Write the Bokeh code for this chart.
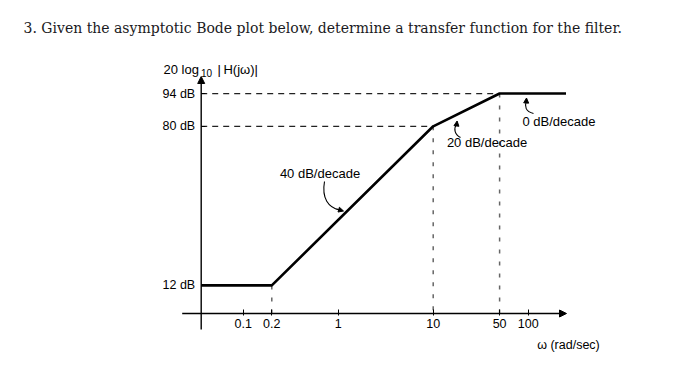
from bokeh.plotting import figure
from bokeh.models import FixedTicker, CustomJSTickFormatter, Arrow, NormalHead
from bokeh.core.properties import value
from bokeh.embed import file_html
from bokeh.resources import INLINE

# ---------------- data ----------------
title_text = "3. Given the asymptotic Bode plot below, determine a transfer function for the filter."
y_label_parts = ["20 log", "10", "|\u2009H(j\u03c9)|"]
x_label = "\u03c9 (rad/sec)"

x_ticks = [0.1, 0.2, 1, 10, 50, 100]
x_tick_labels = ["0.1", "0.2", "1", "10", "50", "100"]
y_ticks = [12, 80, 94]
y_tick_labels = ["12 dB", "80 dB", "94 dB"]

corner_w = [0.2, 10, 50]          # rad/sec
corner_db = [12, 80, 94]          # dB
w_end = 250                       # end of the drawn asymptote
slope_labels = ["40 dB/decade", "20 dB/decade", "0 dB/decade"]

# ---------------- layout helpers (page px -> data) ----------------
W, H = 681, 363
X01_PX, DEC_PX = 242.7, 95.0
Y0_PX, PX_PER_DB = 313.0, 2.34


def xd(px):
    return 0.1 * 10 ** ((px - X01_PX) / DEC_PX)


def yd(py):
    return (Y0_PX - py) / PX_PER_DB


axis_x = xd(200.7)

p = figure(width=W, height=H, x_axis_type="log",
           x_range=(xd(0), xd(W)), y_range=(yd(H), yd(0)),
           output_backend="svg", toolbar_location=None, title_location=None,
           min_border=0, outline_line_color=None,
           background_fill_color="white", border_fill_color="white")
p.xgrid.visible = False
p.ygrid.visible = False

FONT = "Liberation Sans"

# axes positioned at data locations
for ax in (p.xaxis[0], p.yaxis[0]):
    ax.axis_line_color = None
    ax.minor_tick_line_color = None
    ax.major_tick_line_color = "black"
    ax.major_tick_line_width = 1
    ax.major_label_text_font = FONT
    ax.major_label_text_font_size = "12.5px"
    ax.major_label_text_color = "black"

xa = p.xaxis[0]
xa.fixed_location = 0
xa.ticker = FixedTicker(ticks=x_ticks)
xa.formatter = CustomJSTickFormatter(args=dict(t=x_ticks, l=x_tick_labels), code="""
const i = t.findIndex(v => Math.abs(v - tick) < 1e-6 * Math.max(1, Math.abs(v)));
return i >= 0 ? l[i] : "";
""")
xa.major_tick_in = 4
xa.major_tick_out = 2
xa.major_label_standoff = 3

ya = p.yaxis[0]
ya.fixed_location = axis_x
ya.ticker = FixedTicker(ticks=y_ticks)
ya.formatter = CustomJSTickFormatter(args=dict(t=y_ticks, l=y_tick_labels), code="""
const i = t.findIndex(v => Math.abs(v - tick) < 1e-6);
return i >= 0 ? l[i] : "";
""")
ya.major_tick_in = 4
ya.major_tick_out = 0
ya.major_label_standoff = 6

# axis lines with arrow heads
p.add_layout(Arrow(x_start=xd(181.7), y_start=0, x_end=xd(566), y_end=0,
                   line_color="black", line_width=1.4,
                   end=NormalHead(size=7, fill_color="black", line_color="black")))
p.add_layout(Arrow(x_start=axis_x, y_start=yd(329), x_end=axis_x, y_end=yd(76),
                   line_color="black", line_width=1.4,
                   end=NormalHead(size=7, fill_color="black", line_color="black")))

# dashed guide lines
p.segment(x0=[axis_x, axis_x], y0=[corner_db[1], corner_db[2]],
          x1=[corner_w[1], corner_w[2]], y1=[corner_db[1], corner_db[2]],
          line_color="#222222", line_width=1.3, line_dash="6 5")
p.segment(x0=corner_w, y0=corner_db, x1=corner_w, y1=[0, 0, 0],
          line_color="#666666", line_width=1.5, line_dash="4 8")

# asymptotic Bode magnitude
xs = [axis_x] + corner_w + [w_end]
ys = [corner_db[0]] + corner_db + [corner_db[-1]]
p.line(xs, ys, line_color="black", line_width=2.6)

# slope annotations
lab_px = [(319.5, 173), (486.5, 142), (558.5, 121)]
p.text(x=[xd(a) for a, b in lab_px], y=[yd(b) for a, b in lab_px], text=slope_labels,
       text_font=value(FONT), text_font_size="13px", text_color="black",
       text_align="center", text_baseline="middle")

# curved leaders (page px)
leaders = [
    ((324, 181), (321, 198), (328, 207), (339, 209.5)),
    ((460, 137), (454, 134), (453, 128), (456, 124)),
    ((533, 113), (525, 111), (524, 106), (525.7, 101)),
]
p.bezier(x0=[xd(l[0][0]) for l in leaders], y0=[yd(l[0][1]) for l in leaders],
         cx0=[xd(l[1][0]) for l in leaders], cy0=[yd(l[1][1]) for l in leaders],
         cx1=[xd(l[2][0]) for l in leaders], cy1=[yd(l[2][1]) for l in leaders],
         x1=[xd(l[3][0]) for l in leaders], y1=[yd(l[3][1]) for l in leaders],
         line_color="black", line_width=1.1)
heads = [((336, 208.5), (343, 210.5)), ((456, 125), (456.6, 120.5)), ((525.7, 102), (526, 97.5))]
for (a, b) in heads:
    p.add_layout(Arrow(x_start=xd(a[0]), y_start=yd(a[1]), x_end=xd(b[0]), y_end=yd(b[1]),
                       line_color="black", line_width=1.1,
                       end=NormalHead(size=5, fill_color="black", line_color="black")))

# title and axis labels
p.text(x=[xd(23)], y=[yd(27)], text=[title_text], text_font=value("DejaVu Serif"),
       text_font_size="14px", text_color="#1a1a22", text_align="left",
       text_baseline="alphabetic")
p.text(x=[xd(163), xd(200.5), xd(217)], y=[yd(68.5), yd(72.5), yd(68.5)],
       text=y_label_parts, text_font=value(FONT),
       text_font_size=["13px", "10px", "13px"], text_color="black", text_align="left",
       text_baseline="alphabetic")
p.text(x=[xd(536.7)], y=[yd(344)], text=[x_label], text_font=value(FONT),
       text_font_size="12.5px", text_color="black", text_align="left",
       text_baseline="alphabetic")

open("out.html", "w").write(file_html(p, INLINE))
